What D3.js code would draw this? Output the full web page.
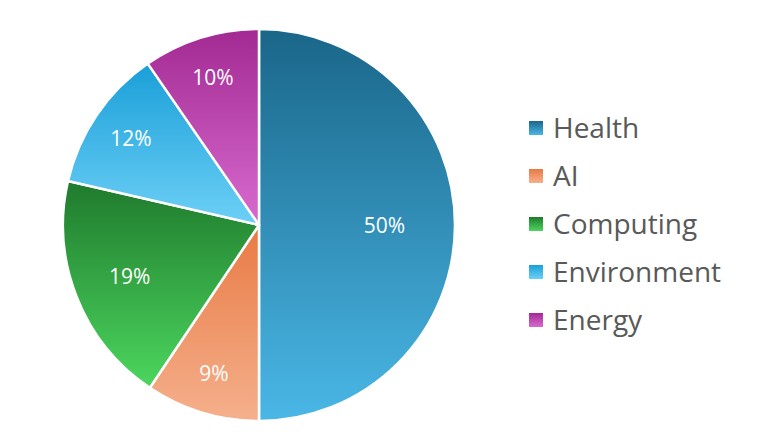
<!DOCTYPE html>
<html>
<head>
<meta charset="utf-8">
<script src="https://cdn.jsdelivr.net/npm/d3@7"></script>
<style>
  body { margin: 0; background: #fff; }
  svg text { font-family: "Open Sans", sans-serif; }
</style>
</head>
<body>
<div id="chart"></div>
<script>
// data (slice shares in %, labels are rounded)
const categories = ["Health", "AI", "Computing", "Environment", "Energy"]
const shares = [50, 9.4, 19.2, 11.8, 9.6]
// gradient stops per slice (top -> bottom)
const topColors = ["#1a6689", "#e87a44", "#1f7a2d", "#1a9fd8", "#a22a92"]
const bottomColors = ["#4ab7e6", "#f5b08c", "#4cd65e", "#6dd0f6", "#d86bcf"]

const width = 768, height = 439
const cx = 259, cy = 225, radius = 196

const svg = d3.select("#chart")
  .append("svg")
    .attr("width", width)
    .attr("height", height)

const data = categories.map((c, i) => ({name: c, value: shares[i], i: i}))

// one vertical gradient per slice
const defs = svg.append("defs")
data.forEach(d => {
  const g = defs.append("linearGradient")
    .attr("id", "grad" + d.i)
    .attr("x1", 0).attr("y1", 0)
    .attr("x2", 0).attr("y2", 1)
  g.append("stop").attr("offset", "0%").attr("stop-color", topColors[d.i])
  g.append("stop").attr("offset", "100%").attr("stop-color", bottomColors[d.i])
})

const pie = d3.pie()
  .value(d => d.value)
  .sort(null)

const arc = d3.arc()
  .innerRadius(0)
  .outerRadius(radius)

const arcs = pie(data)

const pieG = svg.append("g")
  .attr("transform", `translate(${cx},${cy})`)

pieG.selectAll("path")
  .data(arcs)
  .join("path")
    .attr("d", arc)
    .attr("fill", d => `url(#grad${d.data.i})`)
    .attr("stroke", "#fff")
    .attr("stroke-width", 2.5)
    .attr("stroke-linejoin", "round")

// labels - bigger slices put their label closer to the centre
const labelFactor = v => v >= 40 ? 0.64 : v >= 15 ? 0.71 : 0.79
const fmt = d3.format(".0f")

pieG.selectAll("text.lbl")
  .data(arcs)
  .join("text")
    .attr("class", "lbl")
    .attr("transform", d => {
      const r = radius * labelFactor(d.data.value)
      const p = d3.arc().innerRadius(r).outerRadius(r).centroid(d)
      return `translate(${p[0]},${p[1]})`
    })
    .attr("text-anchor", "middle")
    .attr("dy", "0.36em")
    .style("fill", "#fff")
    .style("font-size", "21px")
    .text(d => fmt(d.data.value) + "%")

// legend
const legend = svg.append("g")
  .attr("transform", "translate(529,128)")

const rows = legend.selectAll("g")
  .data(data)
  .join("g")
    .attr("transform", (d, i) => `translate(0,${i * 48})`)

rows.append("rect")
  .attr("x", 0)
  .attr("y", -7)
  .attr("width", 14)
  .attr("height", 14)
  .attr("fill", d => `url(#grad${d.i})`)

rows.append("text")
  .attr("x", 24)
  .attr("dy", "0.36em")
  .style("fill", "#595959")
  .style("font-size", "28px")
  .text(d => d.name)
</script>
</body>
</html>
